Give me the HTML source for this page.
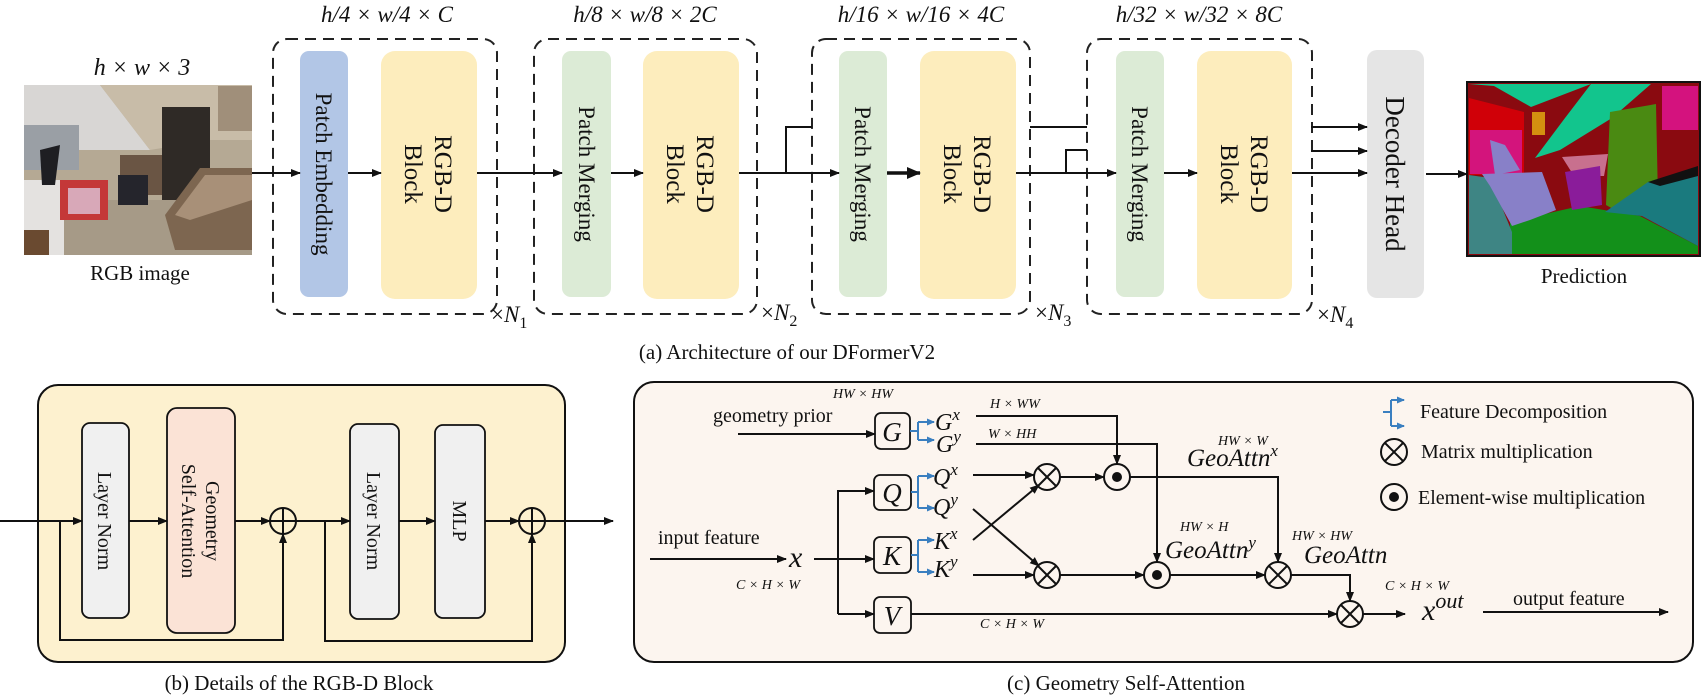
<!DOCTYPE html>
<html><head><meta charset="utf-8"><style>
html,body{margin:0;padding:0;background:#fff;}
svg{display:block;}
text{font-family:"Liberation Serif",serif;fill:#111;}
.m{font-style:italic;}
.g{fill:#8a8a8a;font-style:italic;font-family:"Liberation Sans",sans-serif;font-size:14px;}
</style></head><body>
<svg width="1704" height="699" viewBox="0 0 1704 699" xmlns="http://www.w3.org/2000/svg">
<defs>
<marker id="a" markerWidth="10" markerHeight="8" refX="9" refY="4" orient="auto" markerUnits="userSpaceOnUse"><path d="M0,0 L10,4 L0,8 z" fill="#111"/></marker>
<marker id="ab" markerWidth="14" markerHeight="12" refX="13" refY="6" orient="auto" markerUnits="userSpaceOnUse"><path d="M0,0 L14,6 L0,12 z" fill="#111"/></marker>
<marker id="bl" markerWidth="8" markerHeight="7" refX="7" refY="3.5" orient="auto" markerUnits="userSpaceOnUse"><path d="M0,0 L8,3.5 L0,7 z" fill="#3a7fc0"/></marker>
</defs>

<!-- ===== (a) ===== -->
<g>
<rect x="24" y="85" width="228" height="170" fill="#b5a994"/>
<polygon points="24,85 100,85 150,150 24,150" fill="#d8d6d4"/>
<rect x="24" y="125" width="55" height="45" fill="#9a9fa5"/>
<polygon points="100,85 252,85 252,140 210,140 150,150" fill="#c8bca8"/>
<rect x="218" y="86" width="34" height="45" fill="#a08f7a"/>
<rect x="162" y="107" width="48" height="100" fill="#2f2a26"/>
<rect x="120" y="155" width="42" height="40" fill="#6a5544"/>
<rect x="24" y="200" width="228" height="55" fill="#a69a87"/>
<rect x="24" y="180" width="40" height="75" fill="#e4e2e0"/>
<rect x="24" y="230" width="25" height="25" fill="#6a4a30"/>
<rect x="60" y="180" width="48" height="40" fill="#c43838"/>
<rect x="68" y="188" width="32" height="26" fill="#d8a8b8"/>
<polygon points="40,150 60,145 55,185 42,185" fill="#1e1e22"/>
<rect x="118" y="175" width="30" height="30" fill="#25252c"/>
<polygon points="165,215 200,168 252,168 252,250 175,250" fill="#7d6650"/>
<polygon points="175,215 205,175 252,175 252,200 190,220" fill="#a89078"/>
</g>
<text x="142" y="75" font-size="24" text-anchor="middle" class="m">h × w × 3</text>
<text x="140" y="280" font-size="21" text-anchor="middle">RGB image</text>

<g fill="none" stroke="#222" stroke-width="2" stroke-dasharray="11 7">
<rect x="273" y="39" width="224" height="275" rx="14"/>
<rect x="534" y="39" width="223" height="275" rx="14"/>
<rect x="812" y="39" width="218" height="275" rx="14"/>
<rect x="1087" y="39" width="225" height="275" rx="14"/>
</g>
<g font-size="23" text-anchor="middle" class="m">
<text x="387" y="22">h/4 × w/4 × C</text>
<text x="645" y="22">h/8 × w/8 × 2C</text>
<text x="921" y="22">h/16 × w/16 × 4C</text>
<text x="1199" y="22">h/32 × w/32 × 8C</text>
</g>

<rect x="300" y="51" width="48" height="246" rx="9" fill="#b2c6e6"/>
<rect x="381" y="51" width="96" height="248" rx="14" fill="#fdedbd"/>
<rect x="562" y="51" width="49" height="246" rx="9" fill="#dcebd6"/>
<rect x="643" y="51" width="96" height="248" rx="14" fill="#fdedbd"/>
<rect x="839" y="51" width="48" height="246" rx="9" fill="#dcebd6"/>
<rect x="920" y="51" width="96" height="248" rx="14" fill="#fdedbd"/>
<rect x="1116" y="51" width="48" height="246" rx="9" fill="#dcebd6"/>
<rect x="1197" y="51" width="95" height="248" rx="14" fill="#fdedbd"/>
<rect x="1367" y="50" width="57" height="248" rx="10" fill="#e5e5e5"/>

<g font-size="23" text-anchor="middle">
<text transform="translate(324,174) rotate(90)" dy="8">Patch Embedding</text>
<text transform="translate(587,174) rotate(90)" dy="8">Patch Merging</text>
<text transform="translate(863,174) rotate(90)" dy="8">Patch Merging</text>
<text transform="translate(1140,174) rotate(90)" dy="8">Patch Merging</text>
<text transform="translate(429,174) rotate(90)" font-size="25"><tspan x="0" dy="-6">RGB-D</tspan><tspan x="0" dy="30">Block</tspan></text>
<text transform="translate(691,174) rotate(90)" font-size="25"><tspan x="0" dy="-6">RGB-D</tspan><tspan x="0" dy="30">Block</tspan></text>
<text transform="translate(968,174) rotate(90)" font-size="25"><tspan x="0" dy="-6">RGB-D</tspan><tspan x="0" dy="30">Block</tspan></text>
<text transform="translate(1245,174) rotate(90)" font-size="25"><tspan x="0" dy="-6">RGB-D</tspan><tspan x="0" dy="30">Block</tspan></text>
<text transform="translate(1395,174) rotate(90)" dy="9" font-size="27">Decoder Head</text>
</g>

<g stroke="#111" stroke-width="2" fill="none">
<line x1="252" y1="173" x2="300" y2="173" marker-end="url(#a)"/>
<line x1="348" y1="173" x2="381" y2="173" marker-end="url(#a)"/>
<line x1="477" y1="173" x2="562" y2="173" marker-end="url(#a)"/>
<line x1="611" y1="173" x2="643" y2="173" marker-end="url(#a)"/>
<line x1="739" y1="173" x2="839" y2="173" marker-end="url(#a)"/>
<line x1="887" y1="173" x2="920" y2="173" stroke-width="3.5" marker-end="url(#ab)"/>
<line x1="1016" y1="173" x2="1116" y2="173" marker-end="url(#a)"/>
<line x1="1164" y1="173" x2="1197" y2="173" marker-end="url(#a)"/>
<line x1="1292" y1="173" x2="1367" y2="173" marker-end="url(#a)"/>
<polyline points="786,173 786,127 812,127"/>
<line x1="1030" y1="127" x2="1087" y2="127"/>
<polyline points="1066,173 1066,150 1087,150"/>
<line x1="1311" y1="127" x2="1367" y2="127" marker-end="url(#a)"/>
<line x1="1311" y1="151" x2="1367" y2="151" marker-end="url(#a)"/>
<line x1="1426" y1="174" x2="1467" y2="174" marker-end="url(#a)"/>
</g>

<g font-size="23"><text x="491" y="322">×<tspan class="m">N</tspan><tspan font-size="16" dy="6">1</tspan></text>
<text x="761" y="320">×<tspan class="m">N</tspan><tspan font-size="16" dy="6">2</tspan></text>
<text x="1035" y="320">×<tspan class="m">N</tspan><tspan font-size="16" dy="6">3</tspan></text>
<text x="1317" y="322">×<tspan class="m">N</tspan><tspan font-size="16" dy="6">4</tspan></text></g>

<g>
<rect x="1467" y="82" width="233" height="174" fill="#8a0a10"/>
<polygon points="1469,84 1494,86 1531,107 1591,84" fill="#12c58d"/>
<polygon points="1591,84 1651,84 1612,118 1560,150 1535,158 1565,118" fill="#12c58d"/>
<polygon points="1469,98 1524,112 1524,175 1469,175" fill="#d00008"/>
<rect x="1470" y="130" width="52" height="44" fill="#d3147c"/>
<rect x="1532" y="112" width="13" height="23" fill="#d49010"/>
<rect x="1662" y="86" width="36" height="44" fill="#d4127e"/>
<polygon points="1610,112 1656,104 1658,200 1622,214 1606,205" fill="#4a8a12"/>
<polygon points="1510,222 1580,206 1640,216 1698,246 1698,254 1510,254" fill="#13901a"/>
<polygon points="1469,175 1490,178 1512,232 1512,254 1469,254" fill="#3e8584"/>
<polygon points="1482,174 1542,172 1556,210 1530,220 1512,226 1490,186" fill="#8880c8"/>
<polygon points="1490,140 1505,145 1520,170 1495,175" fill="#8880c8"/>
<polygon points="1562,157 1608,154 1604,176 1574,176" fill="#c8708e"/>
<polygon points="1565,172 1600,166 1602,205 1572,210" fill="#8a1c9a"/>
<polygon points="1605,212 1648,182 1698,172 1698,246 1642,216" fill="#1a7a7e"/>
<polygon points="1648,182 1698,166 1698,176 1660,186" fill="#111"/>
<rect x="1467" y="82" width="233" height="174" fill="none" stroke="#111" stroke-width="2"/>
</g>
<text x="1584" y="283" font-size="21" text-anchor="middle">Prediction</text>

<text x="787" y="359" font-size="21" text-anchor="middle">(a) Architecture of our DFormerV2</text>

<!-- ===== (b) ===== -->
<rect x="38" y="385" width="527" height="277" rx="20" fill="#fdf1cf" stroke="#111" stroke-width="2"/>
<rect x="82" y="423" width="47" height="195" rx="8" fill="#f0f0f0" stroke="#111" stroke-width="1.8"/>
<rect x="167" y="408" width="68" height="225" rx="10" fill="#fbe3d6" stroke="#111" stroke-width="1.8"/>
<rect x="350" y="424" width="49" height="195" rx="8" fill="#f0f0f0" stroke="#111" stroke-width="1.8"/>
<rect x="435" y="425" width="50" height="193" rx="8" fill="#f0f0f0" stroke="#111" stroke-width="1.8"/>
<g font-size="20" text-anchor="middle">
<text transform="translate(105,521) rotate(90)" dy="7">Layer Norm</text>
<text transform="translate(374,521) rotate(90)" dy="7">Layer Norm</text>
<text transform="translate(460,521) rotate(90)" dy="7">MLP</text>
<text transform="translate(201,521) rotate(90)"><tspan x="0" dy="-5">Geometry</tspan><tspan x="0" dy="24">Self-Attention</tspan></text>
</g>
<g stroke="#111" stroke-width="2" fill="none">
<line x1="0" y1="521" x2="82" y2="521" marker-end="url(#a)"/>
<line x1="129" y1="521" x2="167" y2="521" marker-end="url(#a)"/>
<line x1="235" y1="521" x2="270" y2="521" marker-end="url(#a)"/>
<circle cx="283" cy="521" r="13"/><line x1="270" y1="521" x2="296" y2="521"/><line x1="283" y1="508" x2="283" y2="534"/>
<line x1="296" y1="521" x2="350" y2="521" marker-end="url(#a)"/>
<line x1="399" y1="521" x2="435" y2="521" marker-end="url(#a)"/>
<line x1="485" y1="521" x2="519" y2="521" marker-end="url(#a)"/>
<circle cx="532" cy="521" r="13"/><line x1="519" y1="521" x2="545" y2="521"/><line x1="532" y1="508" x2="532" y2="534"/>
<line x1="545" y1="521" x2="613" y2="521" marker-end="url(#a)"/>
<polyline points="60,521 60,640 283,640 283,534" marker-end="url(#a)"/>
<polyline points="325,521 325,641 532,641 532,534" marker-end="url(#a)"/>
</g>
<text x="299" y="690" font-size="21" text-anchor="middle">(b) Details of the RGB-D Block</text>

<!-- ===== (c) ===== -->
<rect x="634" y="382" width="1059" height="280" rx="20" fill="#fcf5ef" stroke="#111" stroke-width="2"/>
<g fill="none" stroke="#111" stroke-width="1.8">
<rect x="875" y="413" width="35" height="36" rx="6"/>
<rect x="874" y="475" width="37" height="35" rx="6"/>
<rect x="874" y="537" width="37" height="36" rx="6"/>
<rect x="874" y="597" width="37" height="36" rx="6"/>
</g>
<g font-size="27" class="m" text-anchor="middle">
<text x="892" y="441">G</text><text x="892" y="502">Q</text><text x="892" y="565">K</text><text x="892" y="625">V</text>
</g>
<g stroke="#3a7fc0" stroke-width="2" fill="none">
<path d="M910,431 H918 M918,422 V440"/><line x1="918" y1="422" x2="934" y2="422" marker-end="url(#bl)"/><line x1="918" y1="440" x2="934" y2="440" marker-end="url(#bl)"/>
<path d="M911,492 H918 M918,476 V508"/><line x1="918" y1="476" x2="934" y2="476" marker-end="url(#bl)"/><line x1="918" y1="508" x2="934" y2="508" marker-end="url(#bl)"/>
<path d="M911,555 H918 M918,540 V572"/><line x1="918" y1="540" x2="934" y2="540" marker-end="url(#bl)"/><line x1="918" y1="572" x2="934" y2="572" marker-end="url(#bl)"/>
<path d="M1383,412 H1391 M1391,400 V426"/><line x1="1391" y1="400" x2="1404" y2="400" marker-end="url(#bl)"/><line x1="1391" y1="426" x2="1404" y2="426" marker-end="url(#bl)"/>
</g>
<g font-size="24" class="m">
<text x="935" y="430">G<tspan font-size="17" dy="-10">x</tspan></text>
<text x="936" y="452">G<tspan font-size="17" dy="-10">y</tspan></text>
<text x="933" y="485">Q<tspan font-size="17" dy="-10">x</tspan></text>
<text x="933" y="515">Q<tspan font-size="17" dy="-10">y</tspan></text>
<text x="934" y="549">K<tspan font-size="17" dy="-10">x</tspan></text>
<text x="934" y="577">K<tspan font-size="17" dy="-10">y</tspan></text>
<text x="789" y="567" font-size="30">x</text>
<text x="1422" y="620" font-size="30">x<tspan font-size="22" dy="-12">out</tspan></text>
<text x="1187" y="466" font-size="25">GeoAttn<tspan font-size="17" dy="-10">x</tspan></text>
<text x="1165" y="558" font-size="25">GeoAttn<tspan font-size="17" dy="-10">y</tspan></text>
<text x="1304" y="563" font-size="25">GeoAttn</text>
</g>
<g class="g">
<text x="833" y="398">HW × HW</text>
<text x="990" y="408">H × WW</text>
<text x="988" y="438">W × HH</text>
<text x="736" y="589">C × H × W</text>
<text x="980" y="628">C × H × W</text>
<text x="1218" y="445">HW × W</text>
<text x="1180" y="531">HW × H</text>
<text x="1292" y="540">HW × HW</text>
<text x="1385" y="590">C × H × W</text>
</g>
<g font-size="20">
<text x="713" y="422">geometry prior</text>
<text x="658" y="544">input feature</text>
<text x="1513" y="605">output feature</text>
<text x="1420" y="418">Feature Decomposition</text>
<text x="1421" y="458">Matrix multiplication</text>
<text x="1418" y="504">Element-wise multiplication</text>
</g>
<g stroke="#111" stroke-width="2" fill="none">
<line x1="738" y1="434" x2="875" y2="434" marker-end="url(#a)"/>
<line x1="650" y1="559" x2="786" y2="559" marker-end="url(#a)"/>
<line x1="814" y1="559" x2="874" y2="559" marker-end="url(#a)"/>
<polyline points="838,614 838,491 874,491" marker-end="url(#a)"/>
<line x1="838" y1="614" x2="874" y2="614" marker-end="url(#a)"/>
<polyline points="976,416 1117,416 1117,464" marker-end="url(#a)"/>
<polyline points="976,444 1157,444 1157,562" marker-end="url(#a)"/>
<line x1="973" y1="475" x2="1034" y2="475" marker-end="url(#a)"/>
<line x1="973" y1="575" x2="1034" y2="575" marker-end="url(#a)"/>
<line x1="973" y1="540" x2="1039" y2="485" marker-end="url(#a)"/>
<line x1="973" y1="509" x2="1039" y2="566" marker-end="url(#a)"/>
<circle cx="1047" cy="477" r="13"/><line x1="1038" y1="468" x2="1056" y2="486"/><line x1="1056" y1="468" x2="1038" y2="486"/>
<circle cx="1047" cy="575" r="13"/><line x1="1038" y1="566" x2="1056" y2="584"/><line x1="1056" y1="566" x2="1038" y2="584"/>
<line x1="1060" y1="477" x2="1104" y2="477" marker-end="url(#a)"/>
<line x1="1060" y1="575" x2="1144" y2="575" marker-end="url(#a)"/>
<circle cx="1117" cy="477" r="13"/>
<circle cx="1157" cy="575" r="13"/>
<polyline points="1130,477 1278,477 1278,562" marker-end="url(#a)"/>
<line x1="1170" y1="575" x2="1265" y2="575" marker-end="url(#a)"/>
<circle cx="1278" cy="575" r="13"/><line x1="1269" y1="566" x2="1287" y2="584"/><line x1="1287" y1="566" x2="1269" y2="584"/>
<polyline points="1291,575 1350,575 1350,601" marker-end="url(#a)"/>
<line x1="911" y1="614" x2="1337" y2="614" marker-end="url(#a)"/>
<circle cx="1350" cy="614" r="13"/><line x1="1341" y1="605" x2="1359" y2="623"/><line x1="1359" y1="605" x2="1341" y2="623"/>
<line x1="1363" y1="614" x2="1405" y2="614" marker-end="url(#a)"/>
<line x1="1483" y1="612" x2="1668" y2="612" marker-end="url(#a)"/>
<circle cx="1394" cy="452" r="13"/><line x1="1385" y1="443" x2="1403" y2="461"/><line x1="1403" y1="443" x2="1385" y2="461"/>
<circle cx="1394" cy="497" r="13"/>
</g>
<g fill="#111"><circle cx="1117" cy="477" r="5"/><circle cx="1157" cy="575" r="5"/><circle cx="1394" cy="497" r="5"/></g>
<text x="1126" y="690" font-size="21" text-anchor="middle">(c) Geometry Self-Attention</text>
</svg>
</body></html>
